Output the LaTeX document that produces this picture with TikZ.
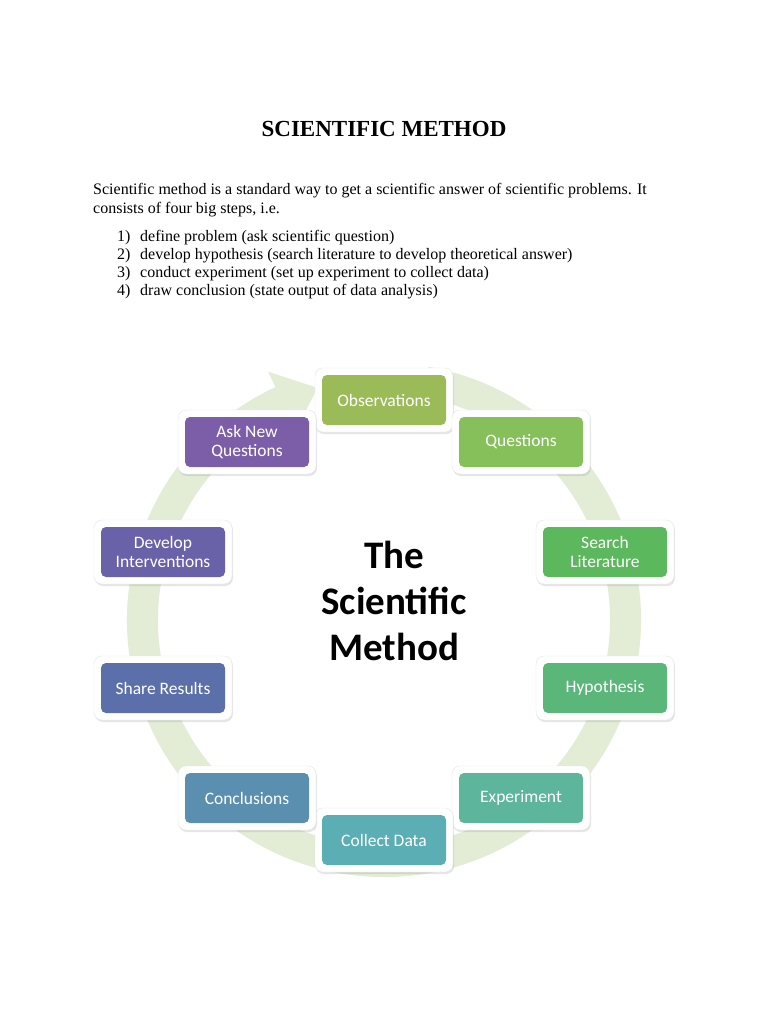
\documentclass[tikz,border=0pt]{standalone}
\usepackage{fontspec}
\setmainfont{Liberation Serif}
\newfontfamily\calib{Carlito}
\usetikzlibrary{shadows}
\definecolor{cObs}{HTML}{9BBB59}
\definecolor{cQue}{HTML}{86C05A}
\definecolor{cSea}{HTML}{5CB85C}
\definecolor{cHyp}{HTML}{5BB67A}
\definecolor{cExp}{HTML}{5DB59B}
\definecolor{cCol}{HTML}{5AAEB4}
\definecolor{cCon}{HTML}{5B8FB0}
\definecolor{cSha}{HTML}{5B6FAA}
\definecolor{cDev}{HTML}{6A62A8}
\definecolor{cAsk}{HTML}{7C5EA8}
\definecolor{ring}{HTML}{E3EDD6}
\tikzset{x=1pt,y=1pt,
 frame/.style={draw=black!10,fill=white,rounded corners=8pt,minimum width=138pt,minimum height=64pt,drop shadow={opacity=0.2,shadow xshift=1pt,shadow yshift=-2pt}},
 stepbox/.style={fill=#1,rounded corners=5pt,minimum width=124pt,minimum height=50pt,text=white,font=\calib\fontsize{17.5}{19}\selectfont,align=center,inner sep=1pt},
 body/.style={anchor=base west,font=\fontsize{16}{19}\selectfont,inner sep=0pt}}
\begin{document}
\begin{tikzpicture}
\useasboundingbox (0,0) rectangle (768,-1024);
\fill[white] (0,0) rectangle (768,-1024);
\node (title) at (384,-129) {\fontsize{23}{26}\selectfont\bfseries SCIENTIFIC METHOD};
\node[body] (p1) at (93,-195) {Scientific method is a standard way to get a scientific answer of scientific problems. It};
\node[body] (p2) at (93,-214) {consists of four big steps, i.e.};
\foreach \n/\t [count=\i] in {1/define problem (ask scientific question),2/develop hypothesis (search literature to develop theoretical answer),3/conduct experiment (set up experiment to collect data),4/draw conclusion (state output of data analysis)}{
 \node[body] (n\i) at (117,{-241-18.3*(\i-1)}) {\n)};
 \node[body] (l\i) at (140,{-241-18.3*(\i-1)}) {\t};
}
\begin{scope}[shift={(384,-620)}]
\fill[ring] (80:257) arc[start angle=80,end angle=-245,radius=257] -- (-245:274) -- (-254:241.5) -- (-245:209) -- (-245:226) arc[start angle=-245,end angle=80,radius=226] -- cycle;
\end{scope}
\node[align=center,font=\calib\bfseries\fontsize{39}{46}\selectfont] (center) at (394,-601) {The\\Scientific\\Method};
\foreach \name/\x/\y/\c/\t in {obs/384/400/cObs/Observations,que/521/442/cQue/Questions,sea/605/552/cSea/Search\\Literature,hyp/605/688/cHyp/Hypothesis,exp/521/798/cExp/Experiment,col/384/840/cCol/Collect Data,con/247/798/cCon/Conclusions,sha/163/688/cSha/Share Results,dev/163/552/cDev/Develop\\Interventions,ask/247/442/cAsk/Ask New\\Questions}{
 \node[frame] (f\name) at (\x,-\y) {};
 \node[stepbox=\c] (\name) at (\x,-\y) {\t};
}
\end{tikzpicture}
\end{document}
